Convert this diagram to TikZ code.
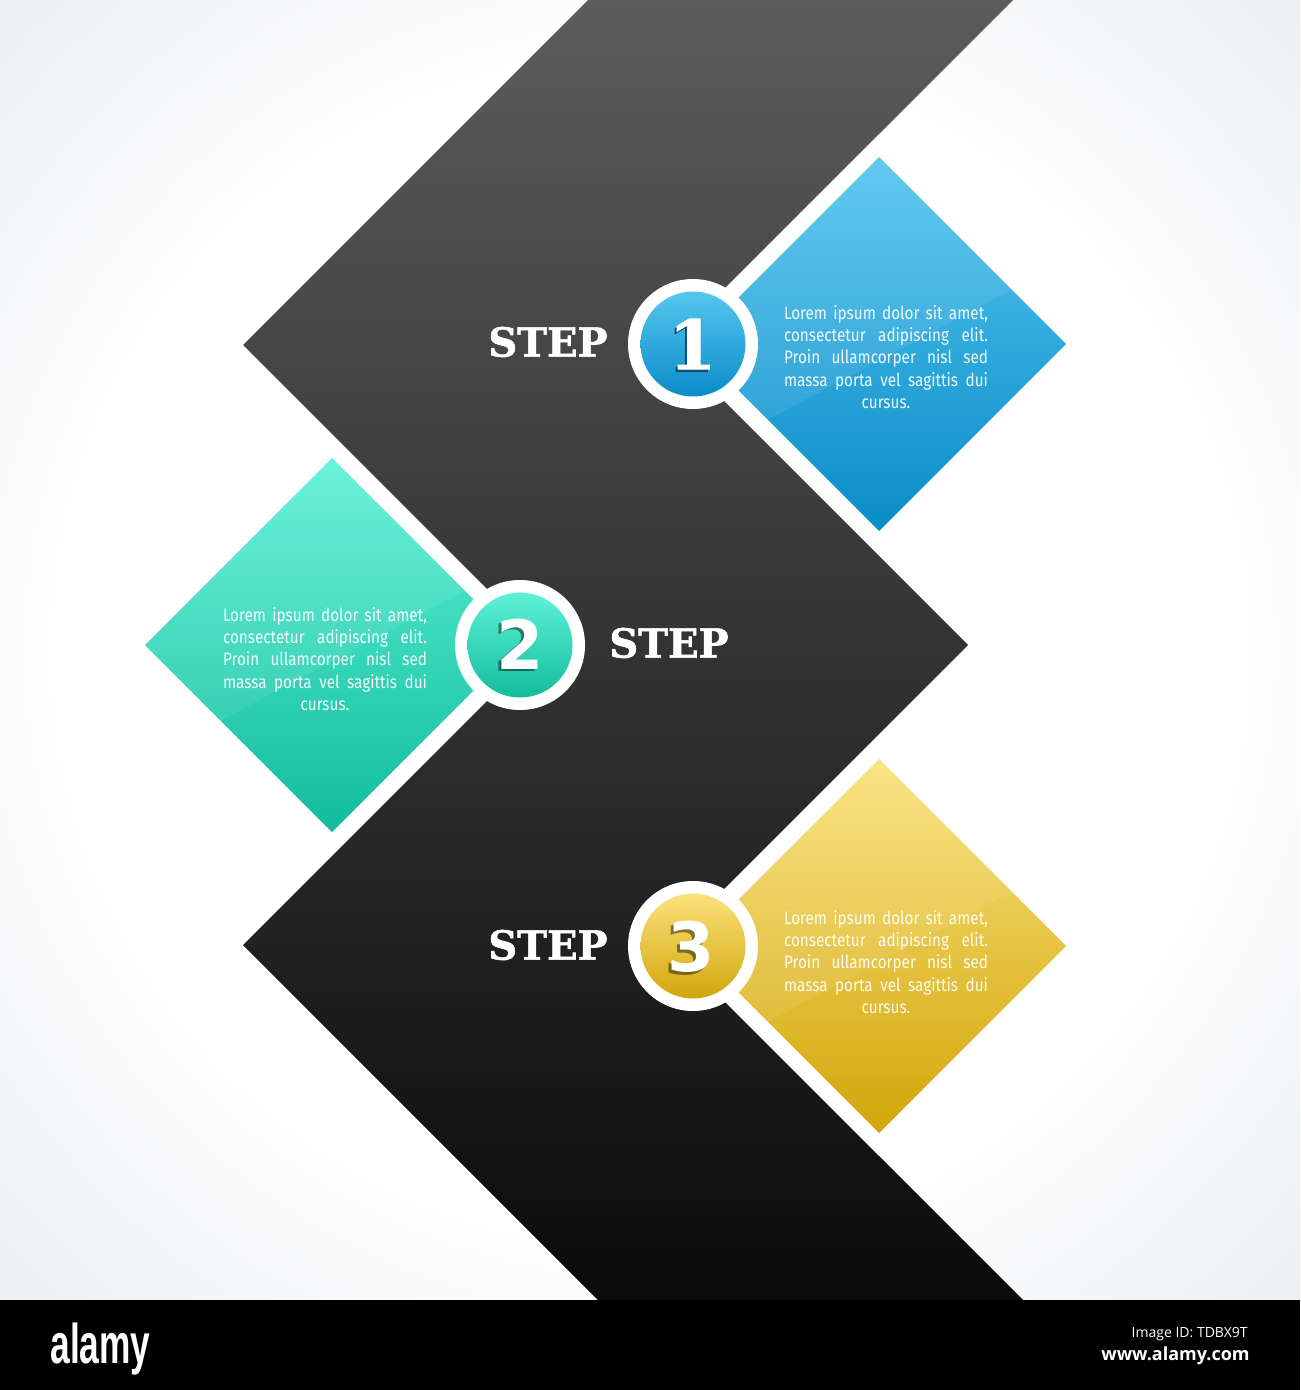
\documentclass[tikz,border=0pt]{standalone}
\usepackage{fontspec}
\newfontfamily\stepfont{DejaVu Serif Bold}[FakeBold=1.4]
\newfontfamily\numfont{DejaVu Sans Bold}
\newfontfamily\bodyfont{Fira Sans}[FakeStretch=0.85]
\newfontfamily\logofont{Liberation Sans}[FakeStretch=0.63]
\newfontfamily\sitefont{Open Sans}
\definecolor{bgmid}{HTML}{EDEFF2}
\definecolor{bgedge}{HTML}{CDD1D9}
\definecolor{bandtop}{HTML}{5C5C5C}
\definecolor{bandbot}{HTML}{0A0A0A}
\definecolor{blueA}{HTML}{55C6F0}
\definecolor{blueB}{HTML}{0A8CC8}
\definecolor{tealA}{HTML}{5EF2D8}
\definecolor{tealB}{HTML}{12BC9C}
\definecolor{yelA}{HTML}{FBE27C}
\definecolor{yelB}{HTML}{D2A60A}
\pgfdeclareradialshading{bgrad}{\pgfpoint{0bp}{0bp}}{color(0bp)=(white); color(22bp)=(white); color(35bp)=(bgmid); color(50bp)=(bgedge)}
\newcommand\jline[1]{\hbox to 102pt{#1}}
\newcommand\loremtext{\vbox{\baselineskip=11.2pt\jline{Lorem ipsum dolor sit amet,}\jline{consectetur adipiscing elit.}\jline{Proin ullamcorper nisl sed}\jline{massa porta vel sagittis dui}\jline{\hfil cursus.\hfil}}}
\tikzset{
  steplabel/.style={font=\stepfont\fontsize{20}{20}\selectfont, text=white, inner sep=0},
  numlabel/.style={font=\numfont\fontsize{34}{34}\selectfont, text=white, inner sep=0},
  numone/.style={font=\stepfont\fontsize{34}{34}\selectfont, text=white, inner sep=0},
  numshadow/.style={text=black, text opacity=0.45},
  bodytext/.style={inner sep=0, text=white, text opacity=0.93, font=\bodyfont\fontsize{9}{11.2}\selectfont},
  ring/.style={fill=white},
}
\begin{document}
\begin{tikzpicture}[x=0.5pt,y=-0.5pt]
\useasboundingbox (0,0) rectangle (1300,1390);
% background
\shade[shading=bgrad] (0,0) rectangle (1300,1300);
% zigzag band
\shade[top color=bandtop, bottom color=bandbot]
  (588,0) -- (1013,0) -- (668,345) -- (968,645) -- (668,945) -- (1023,1300)
  -- (598,1300) -- (243,945) -- (543,645) -- (243,345) -- cycle;
% white gaps between band and diamonds
\begin{scope}
  \clip (588,0) -- (1013,0) -- (668,345) -- (968,645) -- (668,945) -- (1023,1300)
  -- (598,1300) -- (243,945) -- (543,645) -- (243,345) -- cycle;
  \foreach \cx/\cy in {879/344, 332/645, 879/946}
    \fill[white] (\cx-210,\cy) -- (\cx,\cy-210) -- (\cx+210,\cy) -- (\cx,\cy+210) -- cycle;
\end{scope}
% diamonds
\foreach \cx/\cy/\ca/\cb in {879/344/blueA/blueB, 332/645/tealA/tealB, 879/946/yelA/yelB}{
  \shade[top color=\ca, bottom color=\cb]
    (\cx-187,\cy) -- (\cx,\cy-187) -- (\cx+187,\cy) -- (\cx,\cy+187) -- cycle;
  \begin{scope}
    \clip (\cx-187,\cy) -- (\cx,\cy-187) -- (\cx+187,\cy) -- (\cx,\cy+187) -- cycle;
    \fill[white, opacity=0.08] (\cx-200,\cy+123) -- (\cx+200,\cy-90) -- (\cx+200,\cy-200) -- (\cx-200,\cy-200) -- cycle;
  \end{scope}
}
% circles
\foreach \cx/\cy/\ca/\cb in {693/344/blueA/blueB, 520/645/tealA/tealB, 693/946/yelA/yelB}{
  \fill[ring] (\cx,\cy) circle (65);
  \shade[top color=\ca, bottom color=\cb] (\cx,\cy) circle (52.5);
}
% numbers
\node[numone, numshadow] at (690.5,346.5) {1};
\node[numone] (n1) at (692.5,344) {1};
\node[numlabel, numshadow] at (517.5,646.5) {2};
\node[numlabel] (n2) at (520,644) {2};
\node[numlabel, numshadow] at (688.5,949.5) {3};
\node[numlabel] (n3) at (691,947) {3};
% step labels
\node[steplabel] (s1) at (548,342) {STEP};
\node[steplabel] (s2) at (669,643) {STEP};
\node[steplabel] (s3) at (548,945) {STEP};
% body texts
\node[bodytext] (t1) at (886,357) {\loremtext};
\node[bodytext] (t2) at (325,659) {\loremtext};
\node[bodytext] (t3) at (886,962) {\loremtext};
% bottom bar
\fill[black] (0,1300) rectangle (1300,1390);
\node[anchor=base west, inner sep=0, text=white, font=\logofont\bfseries\fontsize{28}{28}\selectfont] (logo) at (50,1363) {alamy};
\node[anchor=base east, inner sep=0, text=white, font=\sitefont\fontsize{7}{7}\selectfont] (imgid) at (1248,1337) {Image ID: TDBX9T};
\node[anchor=base east, inner sep=0, text=white, font=\sitefont\bfseries\fontsize{9}{9}\selectfont] (site) at (1250,1360) {www.alamy.com};
\end{tikzpicture}
\end{document}
